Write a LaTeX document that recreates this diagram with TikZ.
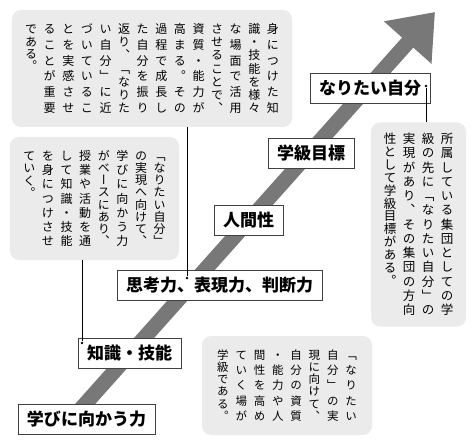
\documentclass[tikz,border=0pt]{standalone}
\usepackage{fontspec}
\usepackage{xcolor}
\usepackage{tikz}
\usetikzlibrary{arrows.meta}

\newfontfamily\jpfont{Noto Sans CJK JP}
\newfontfamily\tatefont[RawFeature=+vert]{Noto Sans CJK JP}
\definecolor{notegray}{gray}{0.92}
\definecolor{arrowgray}{gray}{0.47}

% vertical (tategaki) text: one box per letter, columns from right to left
\makeatletter
\newbox\tate@box
\newcommand\tatechar[1]{\hbox to 1em{\hss\vrule height .88em depth .12em width 0pt\relax#1\hss}}
\def\tate@first#1{\tatechar{#1}\tate@rest}
\def\tate@rest#1{\ifx#1\relax\else\tate@glue\tatechar{#1}\expandafter\tate@rest\fi}
\newcommand\tate@col[4]{\vtop to #2{\offinterlineskip\def\tate@glue{#3}\tate@first#1\relax#4}}
\newcommand\tatebox[4][6.6bp]{%
  \setbox\tate@box\hbox{}%
  \@for\tate@c:=#3\do{%
    \setbox\tate@box\hbox{\expandafter\tate@col\expandafter{\tate@c}{#2}{\vfil}{}\hskip#1\unhbox\tate@box}}%
  \if\relax\detokenize{#4}\relax\else
    \setbox\tate@box\hbox{\tate@col{#4}{#2}{\vskip.03em}{\vfill}\hskip#1\unhbox\tate@box}%
  \fi
  \hbox{\unhbox\tate@box\unskip}}
\makeatother

\begin{document}
\begin{tikzpicture}[
  x=1bp, y=-1bp,
  term/.style={rectangle, draw=black!75, line width=0.75bp, fill=white,
               font=\jpfont\bfseries\fontsize{17bp}{17bp}\selectfont,
               inner xsep=9bp, inner ysep=0pt, minimum height=30bp},
  notebox/.style={rectangle, rounded corners=9bp, fill=notegray, inner sep=0pt,
                  font=\tatefont\fontsize{12bp}{12bp}\selectfont},
  leadline/.style={line width=0.9bp, black},
  leaddot/.style={circle, fill=black, inner sep=0pt, minimum size=2.8bp},
  rise/.style={line width=15bp, draw=arrowgray,
               -{Triangle[length=41bp, width=61bp]}}
]
\useasboundingbox (0,0) rectangle (474,445);

% ---- Rising arrow ----
\coordinate (foot) at (78,412);
\coordinate (tip)  at (435,12);
\draw[rise] (foot) -- (tip);

% ---- Steps on the arrow ----
\node[term] (learn) at (86.5,419.5) {学びに向かう力};
\node[term] (skill) at (129.5,353)  {知識・技能};
\node[term] (think) at (219.5,285)  {思考力、表現力、判断力};
\node[term] (human) at (248.5,220.5) {人間性};
\node[term] (goal)  at (311,153.5)  {学級目標};
\node[term] (self)  at (370,88)     {なりたい自分};

% ---- Notes ----
\node[notebox, minimum width=280bp, minimum height=117bp] (growth) at (152,68.5)
  {\tatebox{89bp}{身につけた知,識・技能を様々,な場面で活用,させることで、,%
   資質・能力が,高まる。その,過程で成長し,た自分を振り,返り、「なりた,%
   い自分」に近,づいているこ,とを実感させ,ることが重要}{である。}};

\node[notebox, minimum width=169bp, minimum height=123bp] (base) at (94.5,198.5)
  {\tatebox{96bp}{「なりたい自分」,の実現へ向けて、,学びに向かう力,%
   がベースにあり、,授業や活動を通,して知識・技能,を身につけさせ}{ていく。}};

\node[notebox, minimum width=95bp, minimum height=204bp,
      font=\tatefont\fontsize{12.5bp}{12.5bp}\selectfont] (group) at (418.5,224.5)
  {\tatebox[6.5bp]{182bp}{所属している集団としての学,級の先に「なりたい自分」の,%
   実現があり、その集団の方向}{性として学級目標がある。}};

\node[notebox, minimum width=170bp, minimum height=99bp,
      font=\tatefont\fontsize{11.5bp}{11.5bp}\selectfont] (klass) at (287,385.5)
  {\tatebox[6.8bp]{71bp}{「なりたい,自分」の実,現に向けて、,自分の資質,%
   ・能力や人,間性を高め,ていく場が,学級である。}{}};

% ---- Leader lines ----
\node[leaddot] (dthink) at (187,278) {};
\draw[leadline] (growth.south -| dthink) -- (dthink);

\node[leaddot] (dskill) at (82,343) {};
\draw[leadline] (base.south -| dskill) -- (dskill);

\node[leaddot] (dself) at (426,86) {};
\draw[leadline] (dself) -- (dself |- group.north);

\end{tikzpicture}
\end{document}
